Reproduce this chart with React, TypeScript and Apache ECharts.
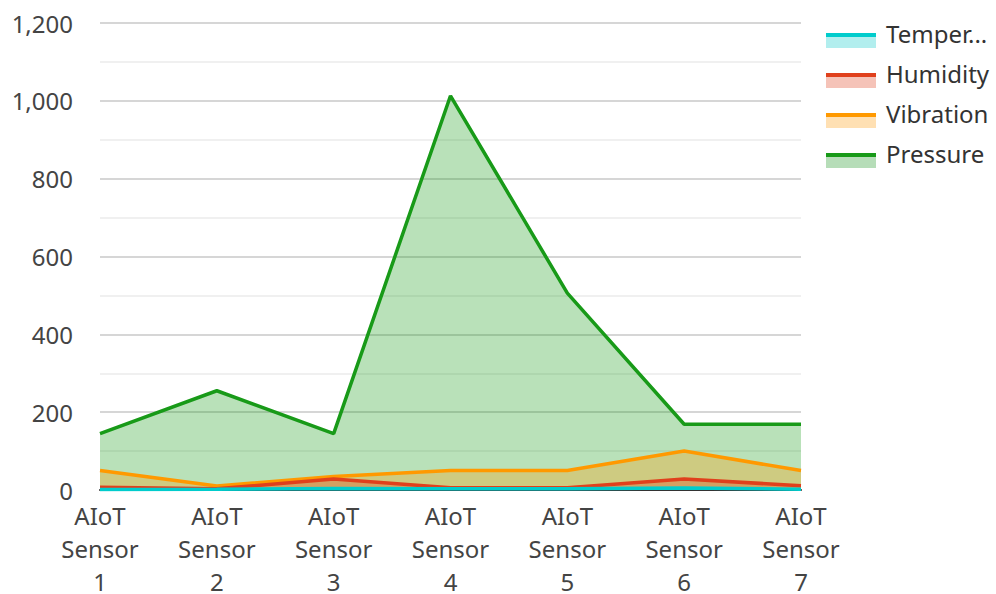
import React, { useEffect, useRef } from "react";
import * as echarts from "echarts";

const categories = [
  "AIoT Sensor 1",
  "AIoT Sensor 2",
  "AIoT Sensor 3",
  "AIoT Sensor 4",
  "AIoT Sensor 5",
  "AIoT Sensor 6",
  "AIoT Sensor 7",
];
const temperature = [1, 2, 4, 3, 3, 5, 2];
const humidity = [7, 3, 28, 6, 6, 28, 11];
const vibration = [50, 10, 35, 50, 50, 100, 50];
const pressure = [145, 255, 145, 1013, 506, 169, 169];

const seriesNames = ["Temperature", "Humidity", "Vibration", "Pressure"];
const lineColors = ["#00cccc", "#e0401c", "#ff9900", "#189a18"];
const fillColors = ["#b2eeee", "#f5c3b8", "#ffe0b3", "#b6ddb8"];
const seriesValues = [temperature, humidity, vibration, pressure];

export default function App() {
  const ref = useRef<HTMLDivElement>(null);
  useEffect(() => {
    if (!ref.current) return;
    const chart = echarts.init(ref.current, undefined, { renderer: "svg" });
    const font = "'Noto Sans', sans-serif";
    const series = seriesNames
      .map((name, i) => ({
        name,
        type: "line",
        data: seriesValues[i],
        symbol: "none",
        lineStyle: { color: lineColors[i], width: 3.5 },
        itemStyle: { color: lineColors[i] },
        areaStyle: { color: lineColors[i], opacity: 0.3 },
      }))
      .reverse();
    const icons = seriesNames.flatMap((_, i) => [
      {
        type: "rect",
        left: 826,
        top: 33 + i * 40,
        shape: { width: 50, height: 15 },
        style: { fill: fillColors[i] },
        z: 100,
      },
      {
        type: "rect",
        left: 826,
        top: 33 + i * 40,
        shape: { width: 50, height: 4 },
        style: { fill: lineColors[i] },
        z: 101,
      },
    ]);
    chart.setOption({
      animation: false,
      grid: { left: 100, right: 195, top: 23, bottom: 104, outerBoundsMode: "none" },
      legend: {
        orient: "vertical",
        left: 821,
        top: 15,
        itemWidth: 50,
        itemHeight: 15,
        itemGap: 14,
        icon: "rect",
        data: seriesNames.map((name) => ({
          name,
          itemStyle: { color: "rgba(0,0,0,0)", borderWidth: 0 },
        })),
        textStyle: {
          fontFamily: font,
          fontSize: 24,
          color: "#333",
          lineHeight: 26,
          width: 108,
          overflow: "truncate",
          ellipsis: "...",
          padding: [0, 0, 0, 5],
        },
      },
      graphic: icons,
      xAxis: {
        type: "category",
        boundaryGap: false,
        data: categories,
        axisLine: { show: true, lineStyle: { color: "#333", width: 2 } },
        axisTick: { show: false },
        axisLabel: {
          fontFamily: font,
          fontSize: 24,
          lineHeight: 33,
          color: "#444",
          margin: 9,
          interval: 0,
          formatter: (v: string) => v.split(" ").join("\n"),
        },
      },
      yAxis: {
        type: "value",
        min: 0,
        max: 1200,
        interval: 200,
        axisLine: { show: false },
        axisTick: { show: false },
        axisLabel: {
          fontFamily: font,
          fontSize: 24,
          color: "#444",
          margin: 27,
          formatter: (v: number) => v.toLocaleString("en-US"),
        },
        splitLine: { lineStyle: { color: "#c8c8c8", width: 1.5 } },
        minorTick: { show: false, splitNumber: 2 },
        minorSplitLine: { show: true, lineStyle: { color: "#ebebeb", width: 1.5 } },
      },
      series,
    });
    return () => chart.dispose();
  }, []);
  return (
    <div
      ref={ref}
      style={{ position: "fixed", left: 0, top: 0, width: 996, height: 594, background: "#fff" }}
    />
  );
}
